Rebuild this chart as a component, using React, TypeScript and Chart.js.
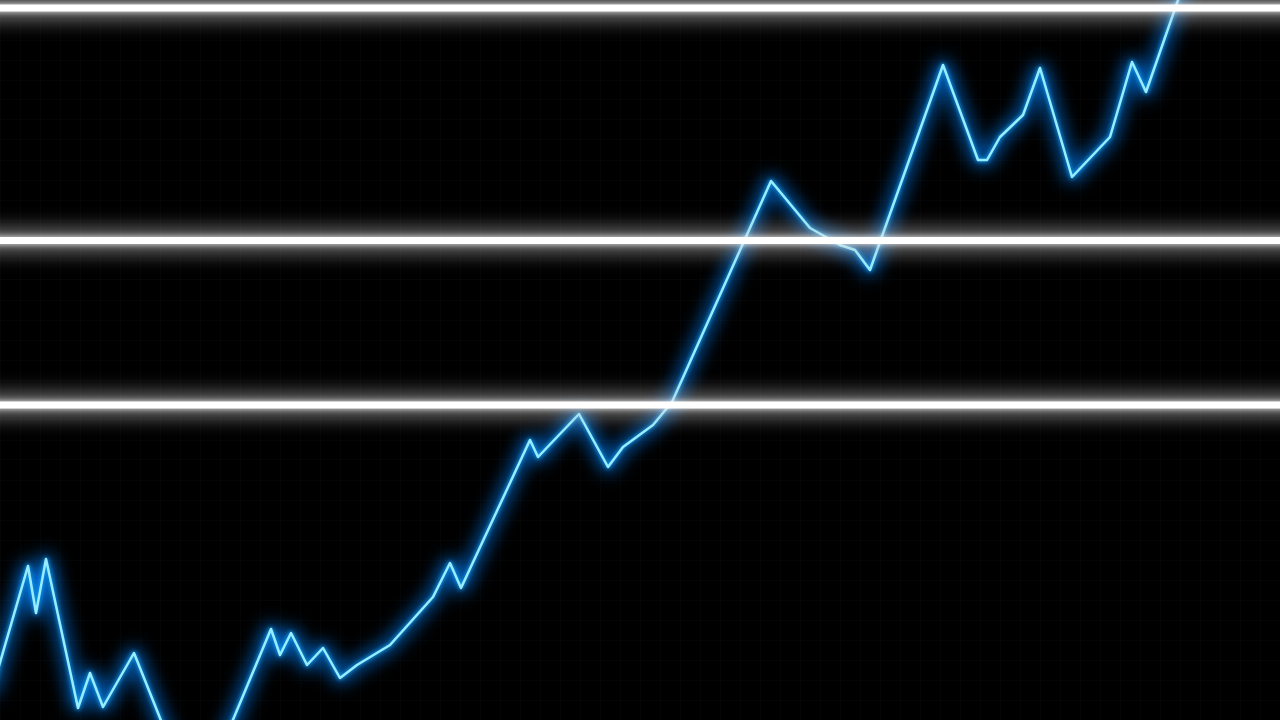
import React, { useEffect, useRef } from "react";
import { Chart, registerables } from "chart.js";

Chart.register(...registerables);

// Time positions (x) and price values (y) of the glowing trace
const traceX = [-8, 28, 36, 46, 78, 90, 103, 134, 196, 271, 280, 291, 307, 323, 340, 357, 390, 433, 450, 461, 530, 538, 579, 608, 623, 653, 672, 771, 810, 840, 855, 870, 943, 978, 987, 1000, 1023, 1040, 1072, 1110, 1132, 1146, 1192];
const traceY = [30, 154, 107, 161, 12, 47, 13, 67, -88, 91, 65, 87, 55, 72, 42, 55, 75, 123, 157, 132, 280, 263, 306, 253, 273, 295, 318, 539, 492, 475, 470, 450, 655, 560, 560, 583, 605, 652, 543, 583, 658, 628, 760];

// Horizontal reference levels
const levels = [712, 479.5, 315];

const xMin = 0;
const xMax = 1280;
const yMin = 0;
const yMax = 720;

const glowPlugin = {
  id: "glow",
  beforeDatasetDraw(chart: any, args: any) {
    const ds: any = chart.data.datasets[args.index];
    const ctx = chart.ctx;
    ctx.save();
    if (ds.blurPx) {
      ctx.filter = `blur(${ds.blurPx}px)`;
    }
    if (ds.glowColor) {
      ctx.shadowColor = ds.glowColor;
      ctx.shadowBlur = ds.glowBlur || 10;
    }
  },
  afterDatasetDraw(chart: any) {
    chart.ctx.restore();
  },
};

const bgPlugin = {
  id: "bg",
  beforeDraw(chart: any) {
    const ctx = chart.ctx;
    ctx.save();
    ctx.fillStyle = "#000";
    ctx.fillRect(0, 0, chart.width, chart.height);
    ctx.restore();
  },
};

export default function App() {
  const ref = useRef<HTMLCanvasElement | null>(null);

  useEffect(() => {
    if (!ref.current) return;
    const trace = traceX.map((x, i) => ({ x, y: traceY[i] }));
    const levelSets: any[] = [];
    levels.forEach((lv) => {
      const pts = [
        { x: xMin - 40, y: lv },
        { x: xMax + 40, y: lv },
      ];
      levelSets.push({
        data: pts,
        borderColor: "rgba(200,200,200,0.6)",
        borderWidth: 22,
        blurPx: 10,
        pointRadius: 0,
        order: 2,
      });
      levelSets.push({
        data: pts,
        borderColor: "#ffffff",
        borderWidth: 7,
        glowColor: "rgba(255,255,255,0.9)",
        glowBlur: 6,
        pointRadius: 0,
        order: 1,
      });
    });

    const chart = new Chart(ref.current, {
      type: "line",
      data: {
        datasets: [
          ...levelSets,
          {
            data: trace,
            borderColor: "rgba(0,130,255,0.9)",
            borderWidth: 10,
            borderJoinStyle: "round",
            borderCapStyle: "round",
            blurPx: 9,
            pointRadius: 0,
            tension: 0,
            order: 5,
          },
          {
            data: trace,
            borderColor: "rgba(20,170,255,0.85)",
            borderWidth: 4,
            borderJoinStyle: "round",
            borderCapStyle: "round",
            blurPx: 2,
            pointRadius: 0,
            tension: 0,
            order: 4,
          },
          {
            data: trace,
            borderColor: "#98ecff",
            borderWidth: 2.5,
            borderJoinStyle: "round",
            pointRadius: 0,
            tension: 0,
            order: 3,
          },
        ] as any,
      },
      options: {
        animation: false,
        responsive: true,
        maintainAspectRatio: false,
        layout: { padding: 0 },
        plugins: { legend: { display: false }, tooltip: { enabled: false } },
        events: [],
        scales: {
          x: {
            type: "linear",
            min: xMin,
            max: xMax,
            ticks: { display: false, stepSize: 20, autoSkip: false },
            grid: { color: "rgba(255,255,255,0.018)", drawTicks: false },
            border: { display: false },
            afterFit: (s: any) => {
              s.height = 0;
            },
          },
          y: {
            type: "linear",
            min: yMin,
            max: yMax,
            ticks: { display: false, stepSize: 20, autoSkip: false },
            grid: { color: "rgba(255,255,255,0.018)", drawTicks: false },
            border: { display: false },
            afterFit: (s: any) => {
              s.width = 0;
            },
          },
        },
      } as any,
      plugins: [bgPlugin, glowPlugin],
    });
    return () => chart.destroy();
  }, []);

  return (
    <div style={{ position: "fixed", left: 0, top: 0, width: 1280, height: 720, background: "#000" }}>
      <canvas ref={ref} />
    </div>
  );
}
